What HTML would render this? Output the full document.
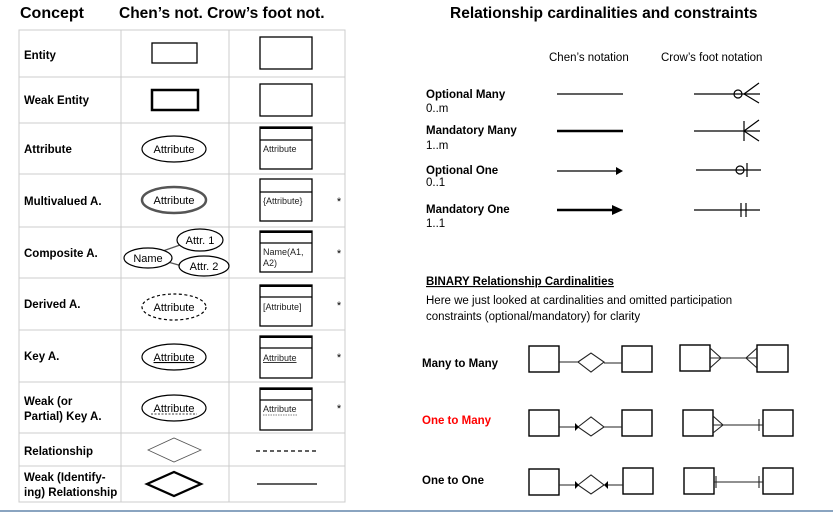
<!DOCTYPE html>
<html><head><meta charset="utf-8"><style>
body{margin:0;background:#fff}
svg{display:block}
text{font-family:"Liberation Sans",sans-serif}
.b{font-weight:bold;font-size:11.5px}
.s{font-size:9px}
</style></head><body>
<svg width="833" height="515" viewBox="0 0 833 515" xmlns="http://www.w3.org/2000/svg">
<rect width="833" height="515" fill="#fff"/>
<text x="20" y="18" font-weight="bold" font-size="16">Concept</text>
<text x="119" y="18" font-weight="bold" font-size="15.5">Chen’s not. Crow’s foot not.</text>
<text x="450" y="18" font-weight="bold" font-size="15.5">Relationship cardinalities and constraints</text>
<g stroke="#ccc" stroke-width="1" fill="none">
<rect x="19" y="30" width="326" height="472"/>
<line x1="121" y1="30" x2="121" y2="502"/><line x1="229" y1="30" x2="229" y2="502"/>
<line x1="19" y1="77" x2="345" y2="77"/><line x1="19" y1="123" x2="345" y2="123"/>
<line x1="19" y1="174" x2="345" y2="174"/><line x1="19" y1="227" x2="345" y2="227"/>
<line x1="19" y1="278" x2="345" y2="278"/><line x1="19" y1="330" x2="345" y2="330"/>
<line x1="19" y1="382" x2="345" y2="382"/><line x1="19" y1="433" x2="345" y2="433"/>
<line x1="19" y1="466" x2="345" y2="466"/>
</g>
<line x1="0" y1="511" x2="833" y2="511" stroke="#8aa4c0" stroke-width="2"/>
<g class="b">
<text x="24" y="59">Entity</text>
<text x="24" y="104">Weak Entity</text>
<text x="24" y="153">Attribute</text>
<text x="24" y="205">Multivalued A.</text>
<text x="24" y="257">Composite A.</text>
<text x="24" y="308">Derived A.</text>
<text x="24" y="360">Key A.</text>
<text x="24" y="405">Weak (or</text>
<text x="24" y="420">Partial) Key A.</text>
<text x="24" y="455">Relationship</text>
<text x="24" y="481">Weak (Identify-</text>
<text x="24" y="496">ing) Relationship</text>
</g>
<g fill="none" stroke="#000" stroke-width="1.2">
<rect x="152" y="43" width="45" height="20" stroke-width="1.3"/>
<rect x="260" y="37" width="52" height="32" stroke-width="1.3"/>
<rect x="152" y="90" width="46" height="20" stroke-width="2.5"/>
<rect x="260" y="84" width="52" height="32" stroke-width="1.3"/>
<ellipse cx="174" cy="149" rx="32" ry="13"/>
<ellipse cx="174" cy="200" rx="32" ry="13" stroke-width="2.5" stroke="#555"/>
<ellipse cx="174" cy="200" rx="30" ry="11" stroke="#fff" stroke-width="0.8"/>
<line x1="160" y1="252" x2="180" y2="245" stroke="#555"/>
<line x1="168" y1="262" x2="182" y2="266" stroke="#555"/>
<ellipse cx="200" cy="240" rx="23" ry="11" fill="#fff"/>
<ellipse cx="148" cy="258" rx="24" ry="10" fill="#fff"/>
<ellipse cx="204" cy="266" rx="25" ry="10" fill="#fff"/>
<ellipse cx="174" cy="307" rx="32" ry="13" stroke-dasharray="3,2.5"/>
<ellipse cx="174" cy="357" rx="32" ry="13"/>
<ellipse cx="174" cy="408" rx="32" ry="13"/>
<polygon points="148,450 174,438 201,450 174,462" stroke="#555" stroke-width="0.8"/>
<polygon points="147,484 174,472 201,484 174,496" stroke-width="2.3"/>
<line x1="256" y1="451" x2="317" y2="451" stroke-dasharray="4,3"/>
<line x1="257" y1="484" x2="317" y2="484"/>
</g>
<g fill="none" stroke="#000" stroke-width="1.3">
<rect x="260" y="127" width="52" height="42"/><line x1="260" y1="140" x2="312" y2="140"/><line x1="260" y1="128" x2="312" y2="128" stroke-width="2"/>
<rect x="260" y="179" width="52" height="42"/><line x1="260" y1="192" x2="312" y2="192"/>
<rect x="260" y="231" width="52" height="41"/><line x1="260" y1="243" x2="312" y2="243"/><line x1="260" y1="232" x2="312" y2="232" stroke-width="2"/>
<rect x="260" y="285" width="52" height="41"/><line x1="260" y1="297" x2="312" y2="297"/><line x1="260" y1="286" x2="312" y2="286" stroke-width="2"/>
<rect x="260" y="336" width="52" height="42"/><line x1="260" y1="348" x2="312" y2="348"/><line x1="260" y1="337" x2="312" y2="337" stroke-width="2"/>
<rect x="260" y="388" width="52" height="42"/><line x1="260" y1="400" x2="312" y2="400"/><line x1="260" y1="389" x2="312" y2="389" stroke-width="2"/>
</g>
<g font-size="11" text-anchor="middle">
<text x="174" y="153">Attribute</text>
<text x="174" y="204">Attribute</text>
<text x="200" y="244">Attr. 1</text>
<text x="148" y="262">Name</text>
<text x="204" y="270">Attr. 2</text>
<text x="174" y="311">Attribute</text>
<text x="174" y="361" text-decoration="underline">Attribute</text>
<text x="174" y="412">Attribute</text>
</g>
<line x1="151" y1="414" x2="197" y2="414" stroke="#000" stroke-width="0.8" stroke-dasharray="2,1.5"/>
<g class="s" fill="#222">
<text x="263" y="152">Attribute</text>
<text x="263" y="204">{Attribute}</text>
<text x="263" y="255">Name(A1,</text>
<text x="263" y="266">A2)</text>
<text x="263" y="310">[Attribute]</text>
<text x="263" y="361" text-decoration="underline">Attribute</text>
<text x="263" y="412">Attribute</text>
</g>
<line x1="263" y1="415" x2="298" y2="415" stroke="#000" stroke-width="0.6" stroke-dasharray="1.5,1"/>
<g font-size="11" text-anchor="middle"><text x="339" y="205">*</text><text x="339" y="257">*</text><text x="339" y="309">*</text><text x="339" y="361">*</text><text x="339" y="412">*</text></g>
<g font-size="11.5"><text x="549" y="61">Chen’s notation</text><text x="661" y="61">Crow’s foot notation</text></g>
<g class="b"><text x="426" y="98">Optional Many</text><text x="426" y="134">Mandatory Many</text><text x="426" y="174">Optional One</text><text x="426" y="213">Mandatory One</text></g>
<g font-size="11.5"><text x="426" y="112">0..m</text><text x="426" y="149">1..m</text><text x="426" y="186">0..1</text><text x="426" y="227">1..1</text></g>
<g stroke="#000" fill="none" stroke-width="1.2">
<line x1="557" y1="94" x2="623" y2="94"/>
<line x1="557" y1="131" x2="623" y2="131" stroke-width="2.5"/>
<line x1="557" y1="171" x2="617" y2="171"/>
<line x1="557" y1="210" x2="614" y2="210" stroke-width="2.5"/>
<line x1="694" y1="94" x2="760" y2="94"/><circle cx="738" cy="94" r="4"/><path d="M759,83 L744,94 L759,103"/>
<line x1="694" y1="131" x2="760" y2="131"/><line x1="744" y1="121" x2="744" y2="141"/><path d="M759,120 L744,131 L759,141"/>
<line x1="696" y1="170" x2="761" y2="170"/><circle cx="740" cy="170" r="4"/><line x1="747" y1="163" x2="747" y2="177"/>
<line x1="694" y1="210" x2="760" y2="210"/><line x1="741" y1="203" x2="741" y2="217"/><line x1="746" y1="203" x2="746" y2="217"/>
</g>
<polygon points="616,167 623,171 616,175" fill="#000"/>
<polygon points="612,205 623,210 612,215" fill="#000"/>
<text x="426" y="285" class="b" text-decoration="underline">BINARY Relationship Cardinalities</text>
<text x="426" y="304" font-size="11.5">Here we just looked at cardinalities and omitted participation</text>
<text x="426" y="320" font-size="11.5">constraints (optional/mandatory) for clarity</text>
<text x="422" y="367" class="b">Many to Many</text>
<text x="422" y="424" class="b" fill="#f00">One to Many</text>
<text x="422" y="484" class="b">One to One</text>
<g fill="none" stroke="#000" stroke-width="1.4">
<rect x="529" y="346" width="30" height="26"/><rect x="622" y="346" width="30" height="26"/>
<rect x="680" y="345" width="30" height="26"/><rect x="757" y="345" width="31" height="27"/>
<rect x="529" y="410" width="30" height="26"/><rect x="622" y="410" width="30" height="26"/>
<rect x="683" y="410" width="30" height="26"/><rect x="763" y="410" width="30" height="26"/>
<rect x="529" y="469" width="30" height="26"/><rect x="623" y="468" width="30" height="26"/>
<rect x="684" y="468" width="30" height="26"/><rect x="763" y="468" width="30" height="26"/>
</g>
<g fill="none" stroke="#222" stroke-width="1.1">
<line x1="559" y1="362" x2="578" y2="362"/><polygon points="578,362 591,353 604,362 591,372"/><line x1="604" y1="363" x2="622" y2="363"/>
<line x1="710" y1="358" x2="757" y2="358"/><path d="M710,348 L721,358 L710,368"/><path d="M757,348 L746,358 L757,368"/>
<line x1="559" y1="427" x2="578" y2="427"/><polygon points="578,427 591,417 604,427 591,436"/><line x1="604" y1="427" x2="622" y2="427"/>
<line x1="713" y1="425" x2="763" y2="425"/><path d="M713,416 L723,425 L713,433"/><line x1="759" y1="419" x2="759" y2="431"/>
<line x1="559" y1="485" x2="578" y2="485"/><polygon points="578,485 591,475 604,485 591,494"/><line x1="604" y1="485" x2="623" y2="485"/>
<line x1="714" y1="482" x2="763" y2="482"/><line x1="716" y1="476" x2="716" y2="488"/><line x1="759" y1="476" x2="759" y2="488"/>
</g>
<polygon points="575,423 579,427 575,431" fill="#000"/>
<polygon points="575,481 579,485 575,489" fill="#000"/>
<polygon points="608,481 604,485 608,489" fill="#000"/>
</svg>
</body></html>
